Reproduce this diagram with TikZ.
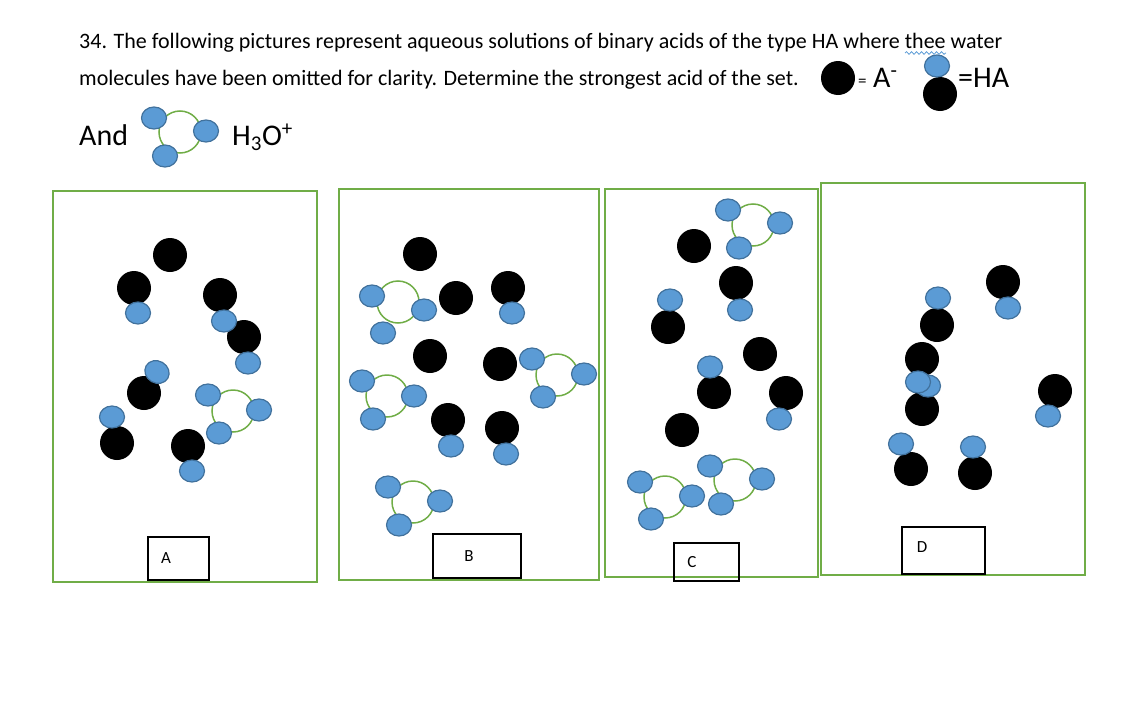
\documentclass[tikz,border=0pt]{standalone}
\usepackage{fontspec}
\setmainfont{Carlito}
\usetikzlibrary{decorations.pathmorphing}
\definecolor{gr}{RGB}{112,173,71}
\definecolor{bl}{RGB}{91,155,213}
\definecolor{bld}{RGB}{65,113,156}
\tikzset{
 blk/.style={fill=black,draw=none},
 hb/.style={fill=bl,draw=bld,line width=1.2pt},
 frame/.style={draw=gr,line width=1.5pt},
 lab/.style={draw=black,line width=1.5pt},
 ring/.style={draw=gr,line width=1.5pt},
}
\newcommand{\Bk}[2]{\fill[blk] (#1,#2) circle (17);}
\newcommand{\Hb}[2]{\draw[hb] (#1,#2) ellipse (12.5 and 11);}
\newcommand{\Hthree}[8]{\draw[ring] (#1,#2) circle (21);\Hb{#3}{#4}\Hb{#5}{#6}\Hb{#7}{#8}}
\begin{document}
\begin{tikzpicture}[x=1pt,y=-1pt]
\useasboundingbox (0,0) rectangle (1138,720);
\node[anchor=base west,font=\fontsize{22}{26}\selectfont,inner sep=0] (t1) at (79,48) {34. The following pictures represent aqueous solutions of binary acids of the type HA where thee water};
\draw[bl,line width=0.8pt,decorate,decoration={snake,amplitude=1.3pt,segment length=5pt}] (905,53) -- (946,53);
\node[anchor=base west,font=\fontsize{22}{26}\selectfont,inner sep=0] (t2) at (79,85) {molecules have been omitted for clarity. Determine the strongest acid of the set.};
% legend
\Bk{838}{78}
\node[anchor=base west,inner sep=0,font=\fontsize{17}{20}\selectfont] (eq1) at (858,86) {=};
\node[anchor=base west,inner sep=0,font=\fontsize{30}{34}\selectfont] (am) at (873,87) {A\textsuperscript{-}};
\Bk{940}{94}
\Hb{937}{66}
\node[anchor=base west,inner sep=0,font=\fontsize{30}{34}\selectfont] (ha) at (958,87) {=HA};
\node[anchor=base west,inner sep=0,font=\fontsize{30}{34}\selectfont] (and) at (79,145) {And};
\Hthree{180}{132}{154}{118}{206}{131}{165}{156}
\node[anchor=base west,inner sep=0,font=\fontsize{30}{34}\selectfont] (h3o) at (232,145) {H\textsubscript{3}O\textsuperscript{+}};
% Box A
\draw[frame] (53,191) rectangle (317,582);
\foreach \p in {(170,255),(134,288),(220,295),(244,337),(144,393),(117,443),(188,446)} \fill[blk] \p circle (17);
\foreach \x/\y in {138/313,224/321,248/363,112/417,192/471} {\Hb{\x}{\y}}
\draw[hb,rotate around={-30:(157,372)}] (157,372) ellipse (12.5 and 11);
\Hthree{233}{411}{208}{395}{259}{410}{219}{433}
\draw[lab] (148,537) rectangle (209,580);
\node (la) at (166,558) {\fontsize{17}{20}\selectfont A};
% Box B
\draw[frame] (339,189) rectangle (599,580);
\foreach \p in {(420,254),(456,298),(508,288),(430,356),(500,364),(448,420),(502,428)} \fill[blk] \p circle (17);
\foreach \x/\y in {512/313,451/446,506/454} {\Hb{\x}{\y}}
\Hthree{398}{302}{372}{296}{424}{310}{383}{333}
\Hthree{387}{396}{362}{381}{414}{396}{373}{419}
\Hthree{557}{375}{532}{359}{584}{374}{543}{397}
\Hthree{413}{502}{388}{487}{440}{501}{399}{525}
\draw[lab] (433,534) rectangle (521,578);
\node (lb) at (469,556) {\fontsize{17}{20}\selectfont B};
% Box C
\draw[frame] (605,189) rectangle (818,577);
\foreach \p in {(694,246),(736,283),(668,327),(760,354),(714,392),(786,393),(682,430)} \fill[blk] \p circle (17);
\foreach \x/\y in {670/300,740/310,710/367,779/419} {\Hb{\x}{\y}}
\Hthree{753}{225}{728}{210}{780}{223}{739}{248}
\Hthree{665}{497}{640}{482}{692}{496}{651}{519}
\Hthree{735}{480}{710}{466}{762}{479}{721}{504}
\draw[lab] (674,543) rectangle (739,581);
\node (lc) at (692,562) {\fontsize{17}{20}\selectfont C};
% Box D
\draw[frame] (821,183) rectangle (1085,575);
\foreach \p in {(1003,282),(937,325),(922,359),(922,409),(1055,391),(911,469),(975,473)} \fill[blk] \p circle (17);
\foreach \x/\y in {938/298,1008/308,928/386,918/382,1048/416,901/444,973/447} {\Hb{\x}{\y}}
\draw[lab] (902,527) rectangle (985,574);
\node (ld) at (922,547) {\fontsize{17}{20}\selectfont D};
\end{tikzpicture}
\end{document}
